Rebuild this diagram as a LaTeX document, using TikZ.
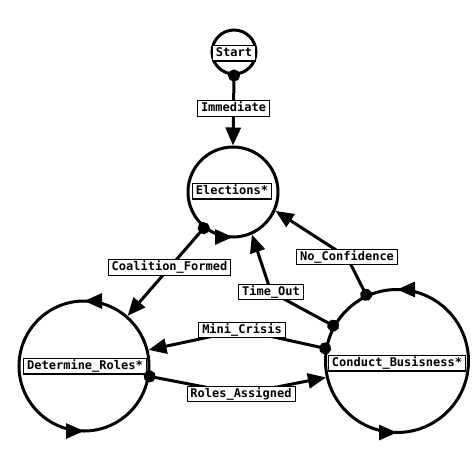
\documentclass[tikz,border=0pt]{standalone}
\usepackage{fontspec}
\setmonofont{DejaVu Sans Mono}
\usetikzlibrary{arrows.meta,decorations.markings}

\begin{document}
\begin{tikzpicture}[x=1pt, y=-1pt,
    statenode/.style={circle, draw, line width=3pt, inner sep=0pt},
    loopmarks/.style={postaction={decorate}, decoration={markings,
        mark=at position 0.25 with {\arrow{Triangle[length=18pt,width=15pt]}},
        mark=at position 0.75 with {\arrow{Triangle[length=18pt,width=15pt]}}}},
    bottomloop/.style={postaction={decorate}, decoration={markings,
        mark=at position 0.75 with {\arrow{Triangle[length=18pt,width=15pt]}}}},
    transition/.style={line width=3pt, {Circle[length=12pt]}-{Triangle[length=18pt,width=15pt]}, shorten <=-6pt},
    edgelabel/.style={draw, line width=0.7pt, fill=white, font=\ttfamily\bfseries\fontsize{12}{14}\selectfont,
        inner xsep=3.5pt, inner ysep=2pt, text height=9pt, text depth=2.5pt},
    statelabel/.style={edgelabel, append after command={(\tikzlastnode.south west) edge[line width=1.8pt] (\tikzlastnode.south east)}},
]
\useasboundingbox (0,0) rectangle (474,453);

% states
\node[statenode, minimum size=44pt]              (start)     at (234,52)  {};
\node[statenode, minimum size=90pt, bottomloop]  (elections) at (233,192) {};
\node[statenode, minimum size=130pt, loopmarks]  (roles)     at (84,366)  {};
\node[statenode, minimum size=143pt, loopmarks]  (business)  at (397,361) {};

\node[statelabel] (startname)     at (234,53)  {Start};
\node[statelabel] (electionsname) at (232,191) {Elections*};
\node[statelabel] (rolesname)     at (85,366)  {Determine\_Roles*};
\node[statelabel] (businessname)  at (397,363) {Conduct\_Busisness*};

% transitions
\draw[transition] (start.south) -- node[edgelabel, pos=0.47] (immediate) {Immediate} (elections.north);
\draw[transition] (elections.231) -- node[edgelabel, pos=0.45] (coalition) {Coalition\_Formed} (roles.49);
\draw[transition] (business.151) -- (271,292) node[edgelabel] (timeout) {Time\_Out} -- (elections.294);
\draw[transition] (business.115) -- (347,257) node[edgelabel] (noconf) {No\_Confidence} -- (elections.336);
\draw[transition] (business.170) -- (242,330) node[edgelabel] (minicrisis) {Mini\_Crisis} -- (roles.14);
\draw[transition] (roles.-9) -- (241,394) node[edgelabel] (rolesassigned) {Roles\_Assigned} -- (business.193);
\end{tikzpicture}
\end{document}
